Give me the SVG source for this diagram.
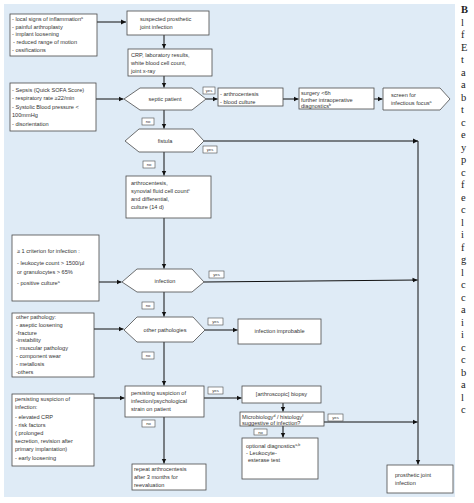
<svg xmlns="http://www.w3.org/2000/svg" width="474" height="503" viewBox="0 0 474 503">
<defs>
<marker id="ah" markerWidth="6" markerHeight="6" refX="5" refY="3" orient="auto" markerUnits="userSpaceOnUse">
<path d="M0,0.6 L5,3 L0,5.4 Z" fill="#111"/>
</marker>
<style>
.bx{fill:#fff;stroke:#4a4a4a;stroke-width:0.8}
.t{font-family:"Liberation Sans",Arial,sans-serif;font-size:5.6px;fill:#333}
.tc{font-family:"Liberation Sans",Arial,sans-serif;font-size:5.6px;fill:#333;text-anchor:middle}
.lb{fill:#fff;stroke:#4a4a4a;stroke-width:0.6}
.lt{font-family:"Liberation Sans",Arial,sans-serif;font-size:4.2px;fill:#333;text-anchor:middle}
.ln{fill:none;stroke:#111;stroke-width:1}
.sup{font-size:3.6px}
.side{font-family:"Liberation Serif","Times New Roman",serif;font-size:10.5px;fill:#222}
</style>
</defs>
<rect x="0" y="0" width="474" height="503" fill="#fff"/>
<rect x="4" y="4" width="451" height="493" fill="#dfebf6"/>

<g id="connectors">
<path class="ln" d="M97,22 H126" marker-end="url(#ah)"/>
<path class="ln" d="M164,35 V48.5" marker-end="url(#ah)"/>
<path class="ln" d="M164,76 V87.5" marker-end="url(#ah)"/>
<path class="ln" d="M96,99 H123.5" marker-end="url(#ah)"/>
<path class="ln" d="M206,99 H217.5" marker-end="url(#ah)"/>
<path class="ln" d="M283,99 H298.5" marker-end="url(#ah)"/>
<path class="ln" d="M374,99 H382.5" marker-end="url(#ah)"/>
<path class="ln" d="M164,110 V128.5" marker-end="url(#ah)"/>
<path class="ln" d="M204,141 H418" marker-end="url(#ah)"/>
<path class="ln" d="M418,141 V464.5" marker-end="url(#ah)"/>
<path class="ln" d="M164,152 V175.5" marker-end="url(#ah)"/>
<path class="ln" d="M164,218 V268.5" marker-end="url(#ah)"/>
<path class="ln" d="M99,282 H121.5" marker-end="url(#ah)"/>
<path class="ln" d="M204,282 L417.5,280" marker-end="url(#ah)"/>
<path class="ln" d="M164,292 V316.5" marker-end="url(#ah)"/>
<path class="ln" d="M94,329 H123.5" marker-end="url(#ah)"/>
<path class="ln" d="M205,330 H237.5" marker-end="url(#ah)"/>
<path class="ln" d="M164,342 V385.5" marker-end="url(#ah)"/>
<path class="ln" d="M94,398 H124.5" marker-end="url(#ah)"/>
<path class="ln" d="M204,398 H241.5" marker-end="url(#ah)"/>
<path class="ln" d="M164,417 V463.5" marker-end="url(#ah)"/>
<path class="ln" d="M283,403 V411.5" marker-end="url(#ah)"/>
<path class="ln" d="M324,422 H417.5" marker-end="url(#ah)"/>
<path class="ln" d="M283,426 V437.5" marker-end="url(#ah)"/>
</g>

<g id="labels">
<rect class="lb" x="203" y="87" width="12" height="7"/><text class="lt" x="209" y="92">yes</text>
<rect class="lb" x="142" y="118" width="12" height="7"/><text class="lt" x="148" y="123">no</text>
<rect class="lb" x="203" y="146" width="14" height="7"/><text class="lt" x="210" y="151">yes</text>
<rect class="lb" x="143" y="161" width="12" height="7"/><text class="lt" x="149" y="166">no</text>
<rect class="lb" x="209" y="271" width="15" height="7"/><text class="lt" x="216.5" y="276">yes</text>
<rect class="lb" x="142" y="302" width="12" height="7"/><text class="lt" x="148" y="307">no</text>
<rect class="lb" x="208" y="318" width="15" height="7"/><text class="lt" x="215.5" y="323">yes</text>
<rect class="lb" x="142" y="352" width="12" height="7"/><text class="lt" x="148" y="357">no</text>
<rect class="lb" x="208" y="387" width="15" height="7"/><text class="lt" x="215.5" y="392">yes</text>
<rect class="lb" x="142" y="420" width="13" height="7"/><text class="lt" x="148.5" y="425">no</text>
<rect class="lb" x="328" y="414" width="15" height="7"/><text class="lt" x="335.5" y="419">yes</text>
<rect class="lb" x="254" y="429" width="13" height="6"/><text class="lt" x="260.5" y="433.6">no</text>
</g>

<g id="local-signs">
<rect class="bx" x="10" y="14" width="87" height="42"/>
<text class="t" x="12" y="21">- local signs of inflammation<tspan class="sup" dy="-2">a</tspan></text>
<text class="t" x="12" y="28.5">- painful  arthroplasty</text>
<text class="t" x="12" y="36">- implant  loosening</text>
<text class="t" x="13" y="44">- reduced range of motion</text>
<text class="t" x="12" y="52">- ossifications</text>
</g>

<g id="suspected-pji">
<rect class="bx" x="127" y="11" width="82" height="24"/>
<text class="t" x="140" y="21">suspected prosthetic</text>
<text class="t" x="140" y="29">joint infection</text>
</g>

<g id="crp">
<rect class="bx" x="128" y="49" width="84" height="27"/>
<text class="t" x="131" y="57">CRP, laboratory results,</text>
<text class="t" x="131" y="65">white blood cell count,</text>
<text class="t" x="131" y="73">joint x-ray</text>
</g>

<g id="sepsis-criteria">
<rect class="bx" x="10" y="83" width="86" height="48"/>
<text class="t" x="12" y="91.5">- Sepsis (Quick SOFA Score)</text>
<text class="t" x="12" y="100">- respiratory rate ≥22/min</text>
<text class="t" x="12" y="108.5">- Systolic Blood pressure &lt;</text>
<text class="t" x="12" y="117">100mmHg</text>
<text class="t" x="12" y="126">- disorientation</text>
</g>

<g id="septic-patient">
<polygon class="bx" points="124,99 140,88 192,88 206,99 192,110 140,110"/>
<text class="tc" x="165" y="101">septic patient</text>
</g>

<g id="arthro-blood">
<rect class="bx" x="218" y="88" width="65" height="18"/>
<text class="t" x="220" y="96">- arthrocentesis</text>
<text class="t" x="220" y="103.5">- blood culture</text>
</g>

<g id="surgery">
<rect class="bx" x="299" y="88" width="75" height="21"/>
<text class="t" x="301" y="95">surgery &lt;6h</text>
<text class="t" x="301" y="101.5">further intraoperative</text>
<text class="t" x="301" y="108">diagnostics<tspan class="sup" dy="-2">b</tspan></text>
</g>

<g id="screen-focus">
<polygon class="bx" points="383,88 440,88 450,99 440,110 383,110"/>
<text class="t" x="391" y="97">screen for</text>
<text class="t" x="391" y="104.5">infectious focus<tspan class="sup" dy="-2">a</tspan></text>
</g>

<g id="fistula">
<polygon class="bx" points="125,141 139,129 193,129 204,141 193,152 139,152"/>
<text class="tc" x="165" y="143">fistula</text>
</g>

<g id="arthrocentesis">
<rect class="bx" x="126" y="176" width="85" height="42"/>
<text class="t" x="131" y="185">arthrocentesis,</text>
<text class="t" x="131" y="193">synovial fluid cell count<tspan class="sup" dy="-2">c</tspan></text>
<text class="t" x="131" y="201">and differential,</text>
<text class="t" x="131" y="209">culture (14 d)</text>
</g>

<g id="criterion">
<rect class="bx" x="12" y="235" width="87" height="66"/>
<text class="t" x="17" y="253">≥ 1 criterion for infection :</text>
<text class="t" x="17" y="265">- leukocyte count &gt; 1500/µl</text>
<text class="t" x="17" y="273.5">or granulocytes &gt; 65%</text>
<text class="t" x="17" y="285">- positive culture<tspan class="sup" dy="-2">a</tspan></text>
</g>

<g id="infection">
<polygon class="bx" points="122,282 137,269 192,269 204,282 192,292 137,292"/>
<text class="tc" x="165" y="283">infection</text>
</g>

<g id="other-pathology">
<rect class="bx" x="12" y="313" width="82" height="64"/>
<text class="t" x="16" y="319">other pathology:</text>
<text class="t" x="16" y="327">- aseptic loosening</text>
<text class="t" x="16" y="334.5">-fracture</text>
<text class="t" x="16" y="342">-instability</text>
<text class="t" x="16" y="350">- muscular pathology</text>
<text class="t" x="16" y="358">- component wear</text>
<text class="t" x="16" y="366">- metallosis</text>
<text class="t" x="16" y="374">-others</text>
</g>

<g id="other-pathologies">
<polygon class="bx" points="124,330 137,317 193,317 205,330 193,342 137,342"/>
<text class="tc" x="165" y="332">other pathologies</text>
</g>

<g id="improbable">
<rect class="bx" x="238" y="319" width="83" height="25"/>
<text class="tc" x="279.5" y="333">infection improbable</text>
</g>

<g id="persisting-criteria">
<rect class="bx" x="12" y="394" width="82" height="72"/>
<text class="t" x="15" y="401">persisting suspicion of</text>
<text class="t" x="15" y="409">infection:</text>
<text class="t" x="15" y="419">- elevated CRP</text>
<text class="t" x="15" y="427">- risk factors</text>
<text class="t" x="15" y="435">( prolonged</text>
<text class="t" x="15" y="443">secretion, revision after</text>
<text class="t" x="15" y="450.5">primary implantation)</text>
<text class="t" x="15" y="460">- early loosening</text>
</g>

<g id="persisting">
<rect class="bx" x="125" y="386" width="79" height="31"/>
<text class="t" x="131" y="395">persisting suspicion of</text>
<text class="t" x="131" y="403">infection/psychological</text>
<text class="t" x="131" y="410.5">strain on patient</text>
</g>

<g id="repeat">
<rect class="bx" x="132" y="464" width="74" height="26"/>
<text class="t" x="134" y="471">repeat arthrocentesis</text>
<text class="t" x="134" y="479">after 3 months for</text>
<text class="t" x="134" y="487">reevaluation</text>
</g>

<g id="biopsy">
<rect class="bx" x="242" y="386" width="79" height="17"/>
<text class="tc" x="281.5" y="396">[arthroscopic] biopsy</text>
</g>

<g id="microbiology">
<rect class="bx" x="240" y="412" width="84" height="14"/>
<text class="t" x="242" y="418.5">Microbiology<tspan class="sup" dy="-2">d</tspan><tspan dy="2"> / histology</tspan><tspan class="sup" dy="-2">f</tspan></text>
<text class="t" x="242" y="424.5">suggestive of infection?</text>
</g>

<g id="optional">
<rect class="bx" x="242" y="438" width="76" height="41"/>
<text class="t" x="246" y="448">optional diagnostics<tspan class="sup" dy="-2">a,b</tspan></text>
<text class="t" x="246" y="455">- Leukocyte-</text>
<text class="t" x="248" y="462">esterase test</text>
</g>

<g id="pji">
<rect class="bx" x="387" y="465" width="66" height="28"/>
<text class="t" x="395" y="477">prosthetic joint</text>
<text class="t" x="395" y="485">infection</text>
</g>

<g id="side-text">
<text class="side" x="461" y="13" font-weight="bold">B</text>
<text class="side" x="461" y="25.5">l</text>
<text class="side" x="461" y="38">f</text>
<text class="side" x="461" y="50.5">E</text>
<text class="side" x="461" y="63">t</text>
<text class="side" x="461" y="75.5">a</text>
<text class="side" x="461" y="88">a</text>
<text class="side" x="461" y="100.5">b</text>
<text class="side" x="461" y="113">t</text>
<text class="side" x="461" y="125.5">c</text>
<text class="side" x="461" y="138">e</text>
<text class="side" x="461" y="150.5">y</text>
<text class="side" x="461" y="163">p</text>
<text class="side" x="461" y="175.5">c</text>
<text class="side" x="461" y="188">f</text>
<text class="side" x="461" y="200.5">e</text>
<text class="side" x="461" y="213">c</text>
<text class="side" x="461" y="225.5">l</text>
<text class="side" x="461" y="238">i</text>
<text class="side" x="461" y="250.5">f</text>
<text class="side" x="461" y="263">g</text>
<text class="side" x="461" y="275.5">l</text>
<text class="side" x="461" y="288">c</text>
<text class="side" x="461" y="300.5">c</text>
<text class="side" x="461" y="313">a</text>
<text class="side" x="461" y="325.5">i</text>
<text class="side" x="461" y="338">i</text>
<text class="side" x="461" y="350.5">c</text>
<text class="side" x="461" y="363">c</text>
<text class="side" x="461" y="375.5">b</text>
<text class="side" x="461" y="388">a</text>
<text class="side" x="461" y="400.5">l</text>
<text class="side" x="461" y="413">c</text>
</g>
</svg>
